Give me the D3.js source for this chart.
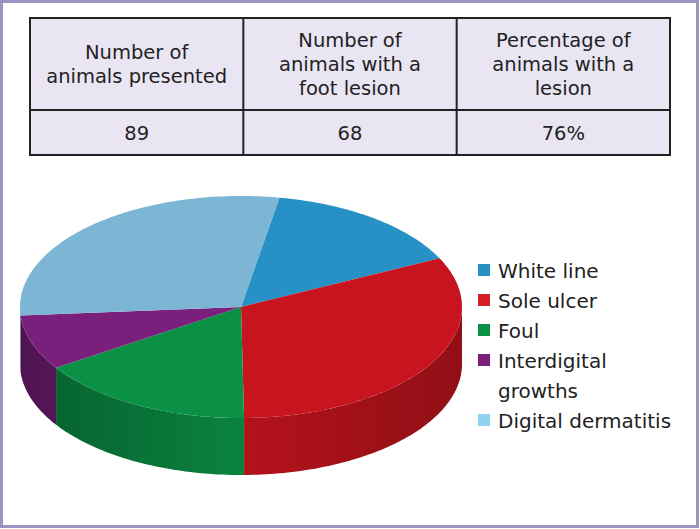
<!DOCTYPE html>
<html>
<head>
<meta charset="UTF-8">
<script src="https://d3js.org/d3.v7.min.js"></script>
<style>
  body { margin: 0; background: #fff; }
  text { font-family: "DejaVu Sans", "Liberation Sans", sans-serif; }
</style>
</head>
<body>
<script>
  // table data
  let headers = [["Number of", "animals presented"], ["Number of", "animals with a", "foot lesion"], ["Percentage of", "animals with a", "lesion"]];
  let values = ["89", "68", "76%"];

  // pie data (percent of lesions)
  let categories = ["White line", "Sole ulcer", "Foul", "Interdigital growths", "Digital dermatitis"];
  let shares = [15, 32, 16, 8, 29];
  let colors = ["#2790c4", "#c8141e", "#0b9146", "#7a1f7c", "#7db5d4"];
  let legendColors = ["#2790c4", "#d41e24", "#0b9146", "#7a1f7c", "#90d2f2"];

  let svg = d3.select("body").append("svg").attr("width", 700).attr("height", 529);

  svg.append("rect").attr("x", 1.5).attr("y", 1.5).attr("width", 696).attr("height", 525)
     .attr("fill", "#fff").attr("stroke", "#9c93c4").attr("stroke-width", 3);

  /* ---------- table ---------- */
  let colX = d3.scaleBand().domain(d3.range(3)).range([30, 670]);
  let tg = svg.append("g");
  tg.append("rect").attr("x", 30).attr("y", 18).attr("width", 640).attr("height", 137)
    .attr("fill", "#e9e5f3").attr("stroke", "#222").attr("stroke-width", 2);
  tg.append("line").attr("x1", 30).attr("x2", 670).attr("y1", 110).attr("y2", 110)
    .attr("stroke", "#222").attr("stroke-width", 2);
  [1, 2].forEach(i => tg.append("line").attr("x1", colX(i)).attr("x2", colX(i))
    .attr("y1", 18).attr("y2", 155).attr("stroke", "#222").attr("stroke-width", 2));
  headers.forEach((lines, i) => {
    let y0 = 64 - (lines.length - 1) * 12;
    lines.forEach((l, j) => tg.append("text").attr("x", colX(i) + colX.bandwidth() / 2)
      .attr("y", y0 + j * 24 + 7).attr("text-anchor", "middle").attr("font-size", 19.5)
      .attr("fill", "#222").text(l));
  });
  values.forEach((v, i) => tg.append("text").attr("x", colX(i) + colX.bandwidth() / 2)
    .attr("y", 140).attr("text-anchor", "middle").attr("font-size", 19.5).attr("fill", "#222").text(v));

  /* ---------- 3D pie ---------- */
  let cx = 241, cy = 307, rx = 221, ry = 111, depth = 57;
  let pie = d3.pie().sort(null).startAngle(10 * Math.PI / 180).endAngle(370 * Math.PI / 180);
  let arcs = pie(shares);
  let pt = (a, dy = 0) => [cx + rx * Math.sin(a), cy - ry * Math.cos(a) + dy];

  function arcPoints(a0, a1, dy) {
    let n = Math.max(2, Math.ceil((a1 - a0) / 0.02));
    return d3.range(n + 1).map(k => pt(a0 + (a1 - a0) * k / n, dy));
  }
  let line = d3.line();

  let defs = svg.append("defs");
  colors.forEach((c, i) => {
    let g = defs.append("linearGradient").attr("id", "side" + i)
      .attr("gradientUnits", "userSpaceOnUse").attr("x1", cx - rx).attr("x2", cx + rx).attr("y1", 0).attr("y2", 0);
    g.append("stop").attr("offset", 0).attr("stop-color", d3.color(c).darker(1.2));
    g.append("stop").attr("offset", 0.5).attr("stop-color", d3.color(c).darker(0.3));
    g.append("stop").attr("offset", 1).attr("stop-color", d3.color(c).darker(0.9));
  });

  let pg = svg.append("g");
  // side walls, front half only (angle PI/2 .. 3PI/2)
  arcs.forEach((d, i) => {
    let a0 = Math.max(d.startAngle, Math.PI / 2), a1 = Math.min(d.endAngle, 3 * Math.PI / 2);
    if (a1 <= a0) return;
    let top = arcPoints(a0, a1, 0), bot = arcPoints(a0, a1, depth).reverse();
    pg.append("path").attr("d", line(top.concat(bot)) + "Z").attr("fill", "url(#side" + i + ")");
  });
  // top faces
  arcs.forEach((d, i) => {
    let pts = [[cx, cy]].concat(arcPoints(d.startAngle, d.endAngle, 0));
    pg.append("path").attr("d", line(pts) + "Z").attr("fill", colors[i]);
  });

  /* ---------- legend ---------- */
  let legendLines = [["White line"], ["Sole ulcer"], ["Foul"], ["Interdigital", "growths"], ["Digital dermatitis"]];
  let lg = svg.append("g");
  let y = 271;
  legendLines.forEach((lines, i) => {
    lg.append("rect").attr("x", 478).attr("y", y - 7).attr("width", 12).attr("height", 12).attr("fill", legendColors[i]);
    lines.forEach((l, j) => lg.append("text").attr("x", 498).attr("y", y + 7 + j * 30)
      .attr("font-size", 20).attr("fill", "#222").text(l));
    y += 30 * lines.length;
  });
</script>
</body>
</html>
